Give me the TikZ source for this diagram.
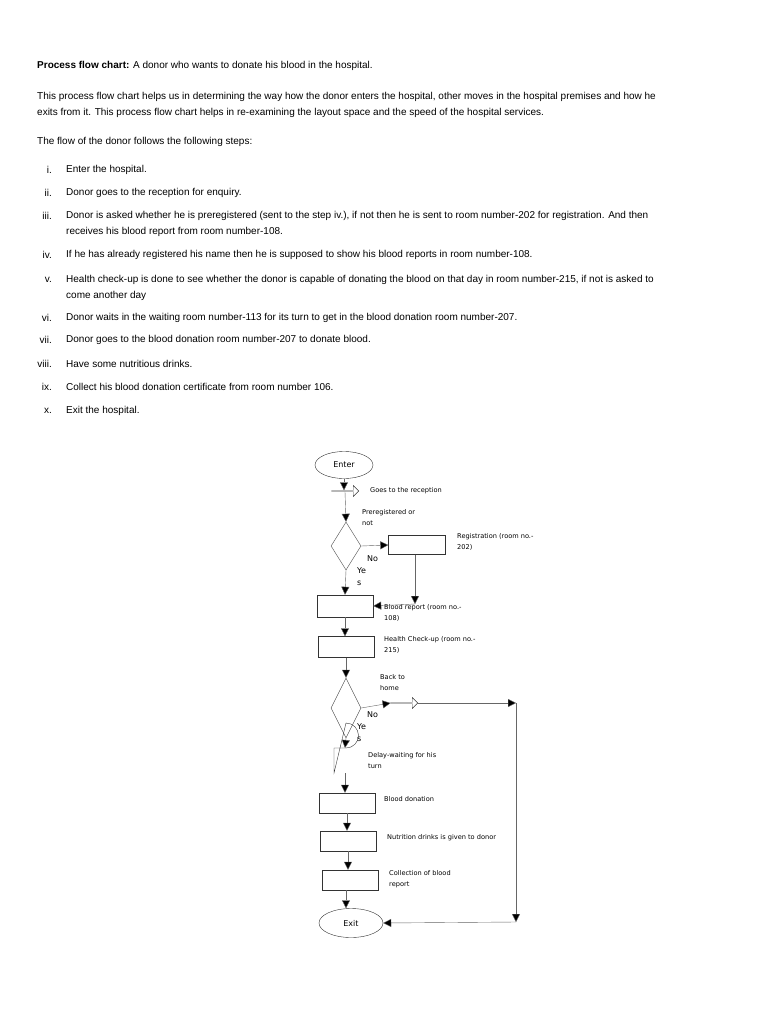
\documentclass[tikz,border=0pt]{standalone}
\usepackage{fontspec}
\setmainfont{Liberation Sans}
\newfontfamily\fcfont{DejaVu Sans}
\usetikzlibrary{arrows.meta,shapes.geometric,shapes.arrows}
\begin{document}
\begin{tikzpicture}[x=1pt,y=-1pt,
  body/.style={anchor=west,inner sep=0,font=\fontsize{10}{12}\selectfont},
  num/.style={anchor=east,inner sep=0,font=\fontsize{10}{12}\selectfont},
  lbl/.style={anchor=north west,inner sep=0,align=left,font=\fcfont\fontsize{6.6}{11}\selectfont},
  yn/.style={anchor=north west,inner sep=0,align=left,font=\fcfont\fontsize{8}{12}\selectfont},
  pbox/.style={draw=black!80,minimum width=56,minimum height=21,inner sep=0},
  dia/.style={draw=black!70,diamond,aspect=0.62,minimum width=30,minimum height=48,inner sep=0},
  ell/.style={draw=black!80,ellipse,inner sep=0,font=\fcfont\fontsize{8}{10}\selectfont},
  fat/.style={draw=black!80,single arrow,single arrow head extend=2pt,minimum height=27,minimum width=11,inner sep=0},
  ar/.style={draw=black!60,-{Triangle[length=8,width=8,fill=black]}},
  ln/.style={draw=black!60}]
\useasboundingbox (0,0) rectangle (768,1024);
\node[body] (h) at (37,66) {\textbf{Process flow chart:} A donor who wants to donate his blood in the hospital.};
\node[body] (p1) at (37,97) {This process flow chart helps us in determining the way how the donor enters the hospital, other moves in the hospital premises and how he};
\node[body] (p2) at (37,113) {exits from it. This process flow chart helps in re-examining the layout space and the speed of the hospital services.};
\node[body] (p3) at (37,142) {The flow of the donor follows the following steps:};
\node[num] (n1) at (52,170) {i.}; \node[body] (t1) at (66,170) {Enter the hospital.};
\node[num] (n2) at (52,193) {ii.}; \node[body] (t2) at (66,193) {Donor goes to the reception for enquiry.};
\node[num] (n3) at (52,216) {iii.}; \node[body] (t3) at (66,216) {Donor is asked whether he is preregistered (sent to the step iv.), if not then he is sent to room number-202 for registration. And then};
\node[body] (t3b) at (66,232) {receives his blood report from room number-108.};
\node[num] (n4) at (52,255) {iv.}; \node[body] (t4) at (66,255) {If he has already registered his name then he is supposed to show his blood reports in room number-108.};
\node[num] (n5) at (52,280) {v.}; \node[body] (t5) at (66,280) {Health check-up is done to see whether the donor is capable of donating the blood on that day in room number-215, if not is asked to};
\node[body] (t5b) at (66,296) {come another day};
\node[num] (n6) at (52,318) {vi.}; \node[body] (t6) at (66,318) {Donor waits in the waiting room number-113 for its turn to get in the blood donation room number-207.};
\node[num] (n7) at (52,340) {vii.}; \node[body] (t7) at (66,340) {Donor goes to the blood donation room number-207 to donate blood.};
\node[num] (n8) at (52,364) {viii.}; \node[body] (t8) at (66,364) {Have some nutritious drinks.};
\node[num] (n9) at (52,387) {ix.}; \node[body] (t9) at (66,387) {Collect his blood donation certificate from room number 106.};
\node[num] (n10) at (52,411) {x.}; \node[body] (t10) at (66,411) {Exit the hospital.};

% flowchart
\node[ell,minimum width=58,minimum height=27] (enter) at (344,465) {Enter};
\node[fat] (rec) at (345,491) {};
\node[lbl] (lrec) at (370,487) {Goes to the reception};
\node[dia] (d1) at (346,546) {};
\node[lbl] (ld1) at (362,509) {Preregistered or\\not};
\node[pbox,minimum width=57,minimum height=19] (reg) at (417,545) {};
\node[lbl] (lreg) at (457,533) {Registration (room no.-\\202)};
\node[yn] (no1) at (367,555) {No};
\node[yn] (ye1) at (357,567) {Ye\\s};
\node[pbox,minimum height=22] (br) at (345,606) {};
\node[lbl] (lbr) at (384,604) {Blood report (room no.-\\108)};
\coordinate (c1) at (415,604);
\node[pbox] (hc) at (346,647) {};
\node[lbl] (lhc) at (384,636) {Health Check-up (room no.-\\215)};
\node[dia,minimum height=60] (d2) at (346,708) {};
\node[lbl] (ld2) at (380,674) {Back to\\home};
\node[fat] (home) at (404,703) {};
\coordinate (c2) at (516,703);
\coordinate (c3) at (516,922);
\node[yn] (no2) at (367,711) {No};
\node[yn] (ye2) at (357,723) {Ye\\s};
\draw[draw=black!80] (334,748) -- (346,748) arc[start angle=90,end angle=-90,radius=12.5] -- (334,773) -- cycle;
\coordinate (dl) at (345,748); \coordinate (dlb) at (345,773);
\node[lbl] (ldl) at (368,752) {Delay-waiting for his\\turn};
\node[pbox,minimum height=20] (bd) at (347,803) {};
\node[lbl] (lbd) at (384,796) {Blood donation};
\node[pbox,minimum height=20] (nd) at (348,841) {};
\node[lbl] (lnd) at (387,834) {Nutrition drinks is given to donor};
\node[pbox,minimum height=20] (cb) at (350,880) {};
\node[lbl] (lcb) at (389,870) {Collection of blood\\report};
\node[ell,minimum width=64,minimum height=29] (exit) at (351,923) {Exit};

\draw[ar] (enter.south) -- (rec.north -| enter.south);
\draw[ar] (rec.south) -- (d1.north);
\draw[ar] (d1.east) -- (reg.west);
\draw[ar] (reg.south -| c1) -- (c1);
\draw[ar] (c1) -- (br.east);
\draw[ar] (d1.south) -- (br.north);
\draw[ar] (br.south) -- (hc.north -| br.south);
\draw[ar] (hc.south -| d2.north) -- (d2.north);
\draw[ar] (d2.east) -- (home.west);
\draw[ar] (home.east) -- (c2);
\draw[ar] (c2) -- (c3);
\draw[ar] (c3) -- (exit.east);
\draw[ar] (d2.south) -- (dl);
\draw[ar] (dlb) -- (bd.north -| dlb);
\draw[ar] (bd.south) -- (nd.north -| bd.south);
\draw[ar] (nd.south) -- (cb.north -| nd.south);
\draw[ar] (cb.south -| 346,0) -- (exit.north -| 346,0);
\end{tikzpicture}
\end{document}
